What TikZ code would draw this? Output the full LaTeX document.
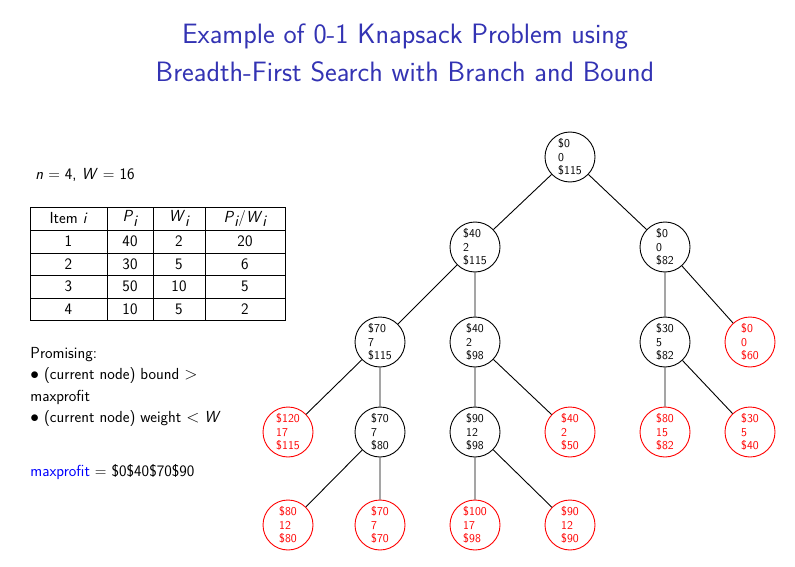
\documentclass[tikz,border=0pt]{standalone}
\usepackage{fontspec}
\renewcommand\familydefault{\sfdefault}
\newcommand\mi[1]{\textit{#1}}
\begin{document}
\begin{tikzpicture}[x=1pt,y=-1pt,line width=0.9pt,
  nd/.style={circle,draw,minimum size=50pt,inner sep=0pt,font=\fontsize{12}{13.5}\selectfont,align=left},
  rd/.style={nd,red,text=red},
  txt/.style={anchor=west,font=\fontsize{16}{19}\selectfont,inner sep=0pt},
  tc/.style={font=\fontsize{16}{19}\selectfont,inner sep=0pt}]
\useasboundingbox (0,0) rectangle (795,567);
\definecolor{tb}{RGB}{51,51,179}
\node[font=\fontsize{28}{38}\selectfont,text=tb,align=center] (title) at (405,53) {Example of 0-1 Knapsack Problem using\\Breadth-First Search with Branch and Bound};
\node[nd] (r) at (570,157) {\$0\\0\\\$115};
\node[nd] (a) at (475,247) {\$40\\2\\\$115};
\node[nd] (b) at (665,247) {\$0\\0\\\$82};
\node[nd] (c) at (380,342) {\$70\\7\\\$115};
\node[nd] (d) at (475,342) {\$40\\2\\\$98};
\node[nd] (e) at (665,342) {\$30\\5\\\$82};
\node[rd] (f) at (750,342) {\$0\\0\\\$60};
\node[rd] (g) at (288,432) {\$120\\17\\\$115};
\node[nd] (h) at (380,432) {\$70\\7\\\$80};
\node[nd] (i) at (475,432) {\$90\\12\\\$98};
\node[rd] (j) at (570,432) {\$40\\2\\\$50};
\node[rd] (k) at (665,432) {\$80\\15\\\$82};
\node[rd] (l) at (750,432) {\$30\\5\\\$40};
\node[rd] (m) at (288,525) {\$80\\12\\\$80};
\node[rd] (n) at (380,525) {\$70\\7\\\$70};
\node[rd] (o) at (475,525) {\$100\\17\\\$98};
\node[rd] (p) at (570,525) {\$90\\12\\\$90};
\draw (r)--(a) (r)--(b) (a)--(c) (a)--(d) (b)--(e) (b)--(f)
 (c)--(g) (c)--(h) (d)--(i) (d)--(j) (e)--(k) (e)--(l)
 (h)--(m) (h)--(n) (i)--(o) (i)--(p);
\node[txt] (nw) at (35,175) {\mi{n} = 4,\ \mi{W} = 16};
\draw (30,207) rectangle (285,320);
\foreach \y in {230,253,275,298} \draw (30,\y)--(285,\y);
\foreach \x in {107,153,205} \draw (\x,207)--(\x,320);
\node[tc] (h1) at (68.5,218.5) {Item \mi{i}};
\node[tc] (h2) at (130,218.5) {\mi{P}$_{\mi{i}}$};
\node[tc] (h3) at (179,218.5) {\mi{W}$_{\mi{i}}$};
\node[tc] (h4) at (245,218.5) {\mi{P}$_{\mi{i}}$/\mi{W}$_{\mi{i}}$};
\foreach \a/\b/\c/\d [count=\k] in {1/40/2/20,2/30/5/6,3/50/10/5,4/10/5/2}{
  \pgfmathsetmacro\yy{241.5+22.5*(\k-1)}
  \node[tc] at (68.5,\yy) {\a};
  \node[tc] at (130,\yy) {\b};
  \node[tc] at (179,\yy) {\c};
  \node[tc] at (245,\yy) {\d};
}
\node[txt] (p1) at (30,355) {Promising:};
\node[txt] (p2) at (30,376) {$\bullet$ (current node) bound $>$};
\node[txt] (p3) at (30,397) {maxprofit};
\node[txt] (p4) at (30,419) {$\bullet$ (current node) weight $<$ \mi{W}};
\node[txt] (mp) at (30,472) {\textcolor{blue}{maxprofit} = \$0\$40\$70\$90};
\end{tikzpicture}
\end{document}
